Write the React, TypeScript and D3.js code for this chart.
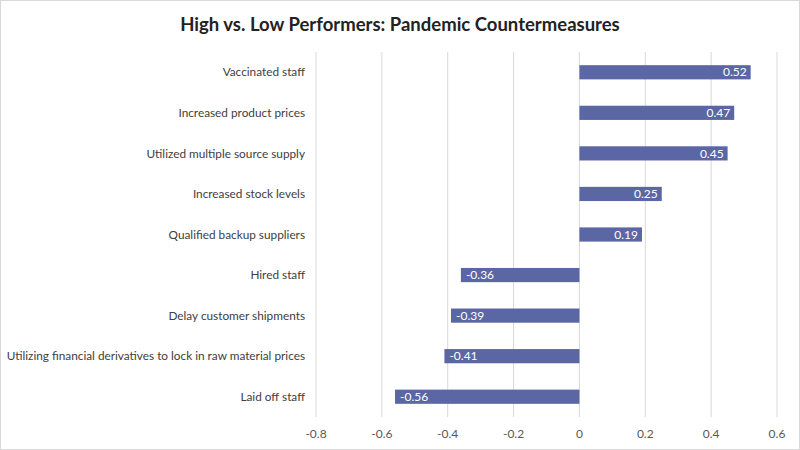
import React, { useEffect, useRef } from 'react';
import * as d3 from 'd3';

const categories = [
  'Vaccinated staff',
  'Increased product prices',
  'Utilized multiple source supply',
  'Increased stock levels',
  'Qualified backup suppliers',
  'Hired staff',
  'Delay customer shipments',
  'Utilizing financial derivatives to lock in raw material prices',
  'Laid off staff',
];
const values = [0.52, 0.47, 0.45, 0.25, 0.19, -0.36, -0.39, -0.41, -0.56];
const tickValues = [-0.8, -0.6, -0.4, -0.2, 0, 0.2, 0.4, 0.6];

const W = 800;
const H = 450;
const FONT = 'Lato, "Open Sans", sans-serif';

const Chart: React.FC = () => {
  const svgRef = useRef<SVGSVGElement>(null);

  useEffect(() => {
    if (!svgRef.current) return;
    const svg = d3.select(svgRef.current);
    svg.selectAll('*').remove();

    svg.append('rect')
      .attr('x', 0.5).attr('y', 0.5)
      .attr('width', W - 1).attr('height', H - 1)
      .attr('fill', '#fff').attr('stroke', '#d9d9d9');

    const x = d3.scaleLinear().domain([-0.8, 0.6]).range([316, 777]);
    const y = d3.scaleBand<string>().domain(categories).range([52, 417]).paddingInner(0.65).paddingOuter(0.325);

    svg.append('text')
      .attr('x', 400).attr('y', 31)
      .attr('text-anchor', 'middle')
      .attr('font-family', FONT)
      .attr('font-weight', 'bold')
      .attr('font-size', 18.5)
      .attr('fill', '#222')
      .text('High vs. Low Performers: Pandemic Countermeasures');

    const grid = svg.append('g');
    grid.selectAll('line').data(tickValues).join('line')
      .attr('x1', d => x(d)).attr('x2', d => x(d))
      .attr('y1', 52).attr('y2', 417)
      .attr('stroke', '#d9d9d9').attr('stroke-width', 1);

    svg.append('g').selectAll('text').data(tickValues).join('text')
      .attr('x', d => x(d)).attr('y', 438)
      .attr('text-anchor', 'middle')
      .attr('font-family', FONT).attr('font-size', 12)
      .attr('fill', '#595959')
      .text(d => String(+d.toFixed(1)));

    svg.append('g').selectAll('text').data(categories).join('text')
      .attr('x', 305).attr('y', d => (y(d) as number) + y.bandwidth() / 2)
      .attr('dy', '0.35em')
      .attr('text-anchor', 'end')
      .attr('font-family', FONT).attr('font-size', 11.8)
      .attr('fill', '#404040')
      .text(d => d);

    const bars = svg.append('g');
    bars.selectAll('rect').data(values).join('rect')
      .attr('x', d => x(Math.min(0, d)))
      .attr('width', d => Math.abs(x(d) - x(0)))
      .attr('y', (_, i) => y(categories[i]) as number)
      .attr('height', y.bandwidth())
      .attr('fill', '#5b67a4');

    bars.selectAll('text').data(values).join('text')
      .attr('x', d => (d >= 0 ? x(d) - 4 : x(d) + 5))
      .attr('y', (_, i) => (y(categories[i]) as number) + y.bandwidth() / 2)
      .attr('dy', '0.35em')
      .attr('text-anchor', d => (d >= 0 ? 'end' : 'start'))
      .attr('font-family', FONT).attr('font-size', 12)
      .attr('fill', '#fff')
      .text(d => d.toFixed(2));
  }, []);

  return <svg ref={svgRef} width={W} height={H} style={{ display: 'block' }} />;
};

export default function App() {
  useEffect(() => {
    document.body.style.margin = '0';
  }, []);
  return <Chart />;
}
